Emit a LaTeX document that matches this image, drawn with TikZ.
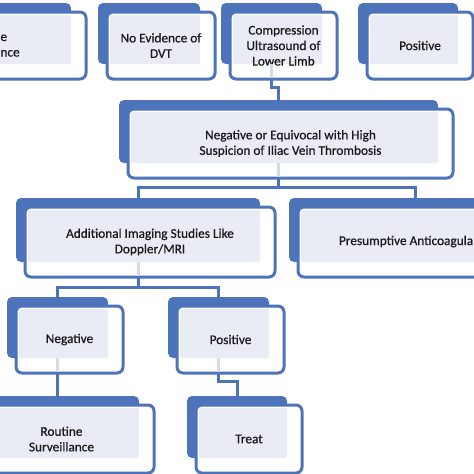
\documentclass[tikz,border=0pt]{standalone}
\usepackage{fontspec}
\setmainfont[FakeBold=0.7]{Carlito}
\definecolor{bluec}{HTML}{4D73BA}
\definecolor{lightc}{HTML}{E9ECF4}
\definecolor{stubc}{HTML}{D3DAEA}
\definecolor{textc}{HTML}{1A1A1A}
\tikzset{
  backbox/.style={fill=bluec, rounded corners=5pt, inner sep=0pt, outer sep=0pt},
  frontbox/.style={draw=bluec, line width=3pt, fill=white, rounded corners=6pt},
  lightbox/.style={fill=lightc, rounded corners=2pt},
  lbl/.style={align=center, font=\fontsize{13.3}{15.5}\selectfont, text=textc, inner sep=0pt, outer sep=0pt},
  conn/.style={draw=bluec, line width=3pt},
  stubline/.style={draw=stubc, line width=3pt, shorten >=1.5pt},
}
% name, x1, y1, x2, y2 (back rectangle), text
\newcommand\cbox[6]{%
  \node[backbox, minimum width={(#4)-(#2)}, minimum height={(#5)-(#3)}] (#1b) at ({((#2)+(#4))/2},{((#3)+(#5))/2}) {};
  \draw[frontbox] ({(#2)+9},{(#3)+9}) rectangle ({(#4)+15},{(#5)+15});
  \fill[lightbox] ({(#2)+12},{(#3)+12}) rectangle (#4,#5);
  \node[lbl, minimum width={(#4)-(#2)+6}, minimum height={(#5)-(#3)+6}] (#1) at ({((#2)+(#4))/2+12},{((#3)+(#5))/2+12}) {#6};
}
\begin{document}
\begin{tikzpicture}[x=1pt,y=-1pt]
\useasboundingbox (0,0) rectangle (474,474);
\clip (0,0) rectangle (474,474);
\fill[white] (0,0) rectangle (474,474);

% top row
\cbox{ev}{-40}{3}{71}{64}{}
\node[lbl, anchor=base west] (eva) at (0.5,41) {e};
\node[lbl, anchor=base west] (evb) at (0.5,56.5) {nce};
\cbox{noev}{98}{3}{200}{64}{No Evidence of\\DVT}
\cbox{cus}{221}{3}{322}{64}{Compression\\Ultrasound of\\Lower Limb}
\cbox{pos1}{358}{3}{458}{64}{Positive}

% middle
\cbox{neq}{119}{100}{438}{163}{Negative or Equivocal with High\\Suspicion of Iliac Vein Thrombosis}

% third row
\cbox{add}{16}{198}{260}{262}{Additional Imaging Studies Like\\Doppler/MRI}
\cbox{pre}{289}{198}{541}{262}{}
\node[lbl, anchor=base west] (pret) at (339,245) {Presumptive Anticoagula};

% fourth row
\cbox{neg}{7}{297}{108}{358}{Negative}
\cbox{pos}{168}{297}{269}{358}{Positive}

% bottom row
\cbox{rt}{-40}{396}{139}{458}{Routine\\Surveillance}
\cbox{tr}{187}{396}{287}{458}{Treat}

% light stubs inside boxes
\draw[stubline] (cusb.south) -- (cusb.south |- cus.south);
\draw[stubline] (neqb.south) -- (neqb.south |- neq.south);
\draw[stubline] (addb.south) -- (addb.south |- add.south);
\draw[stubline] (negb.south) -- (negb.south |- neg.south);
\draw[stubline] (posb.south) -- (posb.south |- pos.south);

% connectors
\draw[conn] (cusb.south |- cus.south) -- ++(0,8) -| (neqb.north);
\draw[conn] (neqb.south |- neq.south) -- ++(0,9) coordinate (j2);
\draw[conn] (addb.north) -- (addb.north |- j2) -- (preb.north |- j2) -- (preb.north);
\draw[conn] (addb.south |- add.south) -- ++(0,10) coordinate (j3);
\draw[conn] (negb.north) -- (negb.north |- j3) -- (posb.north |- j3) -- (posb.north);
\draw[conn] (negb.south |- neg.south) -- (negb.south |- rtb.north);
\draw[conn] (posb.south |- pos.south) -- ++(0,8) -| (trb.north);
\end{tikzpicture}
\end{document}
